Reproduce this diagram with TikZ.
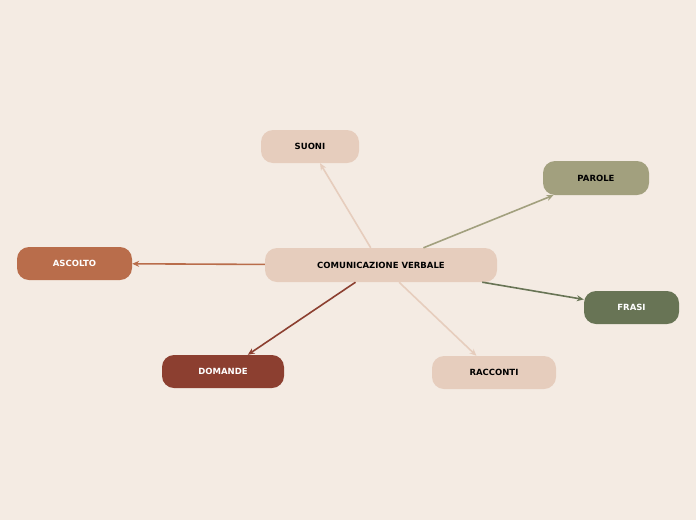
\documentclass[tikz,border=0pt]{standalone}
\usepackage{fontspec}
\setmainfont{DejaVu Sans}
\usetikzlibrary{arrows.meta}
\definecolor{bg}{HTML}{F4EBE3}
\definecolor{beige}{HTML}{E6CDBD}
\definecolor{olive}{HTML}{A2A07E}
\definecolor{rust}{HTML}{B96D4B}
\definecolor{moss}{HTML}{687455}
\definecolor{brick}{HTML}{8C3F30}
\tikzset{x=1pt,y=-1pt,
 box/.style={rounded corners=12pt,inner sep=0pt,font=\bfseries\fontsize{8.5}{10}\selectfont},
 conn/.style={line width=1.6pt,-{Stealth[length=7pt,width=6pt]}}}
\begin{document}
\begin{tikzpicture}
\fill[bg] (0,0) rectangle (696,520);
\useasboundingbox (0,0) rectangle (696,520);
\node[box,fill=beige,minimum width=232pt,minimum height=34pt] (c) at (381,265) {COMUNICAZIONE VERBALE};
\node[box,fill=beige,minimum width=98pt,minimum height=33pt] (s) at (310,146.5) {SUONI};
\node[box,fill=olive,minimum width=106pt,minimum height=34pt] (p) at (596,178) {PAROLE};
\node[box,fill=rust,text=white,minimum width=115pt,minimum height=33pt] (a) at (74.5,263.5) {ASCOLTO};
\node[box,fill=moss,text=white,minimum width=95pt,minimum height=33pt] (f) at (631.5,307.5) {FRASI};
\node[box,fill=brick,text=white,minimum width=122pt,minimum height=33pt] (d) at (223,371.5) {DOMANDE};
\node[box,fill=beige,minimum width=124pt,minimum height=33pt] (r) at (494,372.5) {RACCONTI};
\draw[conn,beige] (c) -- (s);
\draw[conn,olive] (c) -- (p);
\draw[conn,rust] (c) -- (a);
\draw[conn,moss] (c) -- (f);
\draw[conn,brick] (c) -- (d);
\draw[conn,beige] (c) -- (r);
\end{tikzpicture}
\end{document}
